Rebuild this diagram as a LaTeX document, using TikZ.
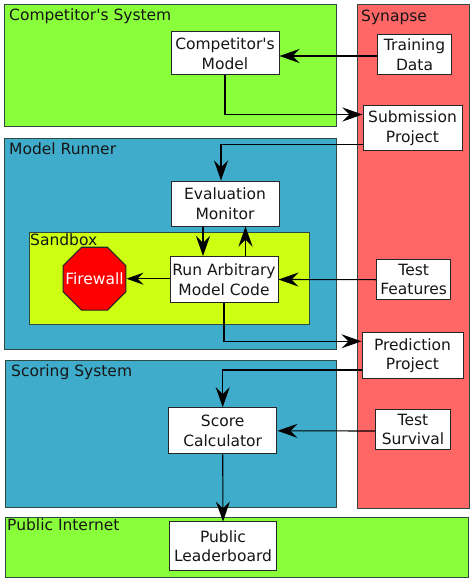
\documentclass[tikz,border=0pt]{standalone}
\usepackage{fontspec}
\setmainfont{DejaVu Sans}
\usetikzlibrary{arrows.meta,shapes.geometric}

\definecolor{greenzone}{HTML}{88FF3A}
\definecolor{bluezone}{HTML}{40ACCB}
\definecolor{synapsered}{HTML}{FF6666}
\definecolor{sandboxgreen}{HTML}{CCFF11}
\definecolor{zoneline}{HTML}{2F4A40}
\definecolor{inkdark}{HTML}{161616}

\tikzset{
  zone/.style={draw=zoneline,line width=1pt},
  zonetitle/.style={anchor=base west,inner sep=0pt,text=inkdark},
  modelbox/.style={draw=black!85,fill=white,line width=1pt,inner sep=0pt,align=center,text=inkdark},
  flow/.style={draw=black,line width=1.1pt,-{Stealth[length=20pt,width=14pt,inset=7pt]}},
  thinflow/.style={draw=black,line width=0.8pt,-{Stealth[length=17pt,width=12pt,inset=6pt]}}
}

\begin{document}
\begin{tikzpicture}[x=1pt,y=-1pt,font=\fontsize{15.5}{19.5}\selectfont]
  \useasboundingbox (0,0) rectangle (474,583);

  % ================= zones =================
  \draw[zone,fill=greenzone] (4.5,4.5) rectangle (336,126.5);
  \draw[zone,fill=synapsered] (357,5) rectangle (469,508);
  \draw[zone,fill=bluezone] (4.5,138) rectangle (336.5,349);
  \draw[zone,fill=bluezone] (5.5,360) rectangle (336.5,507.5);
  \draw[zone,fill=greenzone] (5.5,517.5) rectangle (468.5,577.5);
  \draw[zone,fill=sandboxgreen] (29,232.5) rectangle (309,324);

  % zone titles
  \node[zonetitle] (competitortitle) at (9,21) {Competitor\textquotesingle s System};
  \node[zonetitle] (synapsetitle) at (361,21.5) {Synapse};
  \node[zonetitle] (runnertitle) at (9,154) {Model Runner};
  \node[zonetitle] (sandboxtitle) at (30,245.5) {Sandbox};
  \node[zonetitle] (scoringtitle) at (11,376.5) {Scoring System};
  \node[zonetitle] (internettitle) at (7,530.5) {Public Internet};

  % ================= boxes =================
  \node[modelbox,minimum width=108,minimum height=43] (model) at (225,53.5) {Competitor\textquotesingle s\\Model};
  \node[modelbox,minimum width=74,minimum height=39.5] (training) at (414.5,54.7) {Training\\Data};
  \node[modelbox,minimum width=99,minimum height=45.5] (submission) at (412.5,128.2) {Submission\\Project};
  \node[modelbox,minimum width=108,minimum height=45] (monitor) at (225,203.5) {Evaluation\\Monitor};
  \node[modelbox,minimum width=108,minimum height=46] (runcode) at (224,279.5) {Run Arbitrary\\Model Code};
  \node[modelbox,minimum width=74.5,minimum height=39.5] (features) at (413.7,279.7) {Test\\Features};
  \node[modelbox,minimum width=101,minimum height=46.5] (prediction) at (412.5,355.7) {Prediction\\Project};
  \node[modelbox,minimum width=108.5,minimum height=46.3] (score) at (222.7,430.8) {Score\\Calculator};
  \node[modelbox,minimum width=75,minimum height=39.5] (survival) at (413,429.7) {Test\\Survival};
  \node[modelbox,minimum width=107,minimum height=48.7] (leaderboard) at (223,546.3) {Public\\Leaderboard};

  % firewall octagon
  \node[regular polygon,regular polygon sides=8,draw=black!85,fill=red,
    line width=1.1pt,minimum size=68pt,inner sep=0pt] (firewall) at (94.5,278.7) {};
  \node[inner sep=0pt,text=white] (firewalltext) at (firewall.center) {Firewall};

  % ================= connectors =================
  \draw[flow] (training.west) ++(0,1.3) -- ([yshift=-2.5pt]model.east);
  \draw[flow] (model.south) |- ([yshift=13.7pt]submission.west);
  \draw[flow] ([yshift=-16.5pt]submission.west) -| ([xshift=-4pt]monitor.north);
  \draw[flow] ([xshift=-22pt]monitor.south) -- ([xshift=-21pt]runcode.north);
  \draw[flow] ([xshift=21.5pt]runcode.north) -- ([xshift=20.5pt]monitor.south);
  \draw[thinflow] ([yshift=0.8pt]runcode.west) -- (firewall.east);
  \draw[flow] (features.west) -- (runcode.east);
  \draw[flow] (runcode.south) |- ([yshift=14.4pt]prediction.west);
  \draw[flow] ([yshift=-14.3pt]prediction.west) -| (score.north);
  \draw[flow] ([yshift=-1.3pt]survival.west) -- (score.east);
  \draw[flow] (score.south) -- (leaderboard.north);
\end{tikzpicture}
\end{document}
